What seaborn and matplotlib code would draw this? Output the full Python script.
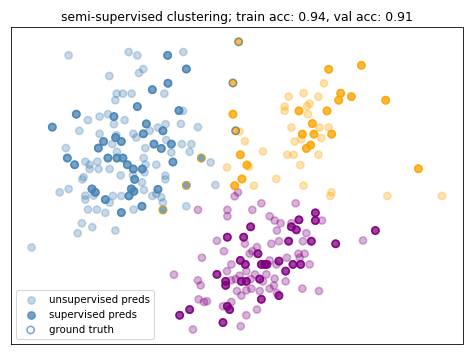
import numpy as np
import pandas as pd
import matplotlib.pyplot as plt
import seaborn as sns

# cluster colours: 0 = blue, 1 = orange, 2 = purple
colors = {0: 'steelblue', 1: 'orange', 2: 'purple'}

# unsupervised predictions (x, y, y grows downwards)
blue_unsup = [(69, 54.3), (129, 51), (137.7, 54.3), (183.7, 51), (143.7, 68), (139.3, 72), (109.7, 75),
              (164.7, 92.7), (117, 92.7), (123.3, 92.7), (132, 92.7), (115.7, 99.3),
              (88.3, 119.3), (100, 115.7), (108.3, 113.3), (114.3, 123.3), (125, 119.3), (79.7, 130),
              (100, 133), (116.7, 134.3), (133.7, 133), (136.7, 136.7), (150, 130), (158.3, 126.7),
              (166, 123.3), (181.3, 123), (183.3, 110), (198.3, 126.3),
              (145.7, 147.3), (166.7, 139.3), (182.3, 143.3), (191.7, 143.3), (190, 151), (171.7, 151.7),
              (66.3, 147.3), (112.7, 143.3), (117.3, 151),
              (85.7, 161), (90, 164), (90, 168.3), (97.7, 161), (99, 168.3), (110, 168.3), (144, 157.3),
              (146, 164), (156.7, 164), (145, 171.7), (121, 174.7), (133.3, 174.7), (142.3, 181.7),
              (165.7, 175), (165.7, 178.7), (82.7, 178.7), (84, 176.5),
              (60, 191.7), (69, 188.3), (85.7, 195), (85.7, 199), (94, 195), (113.3, 195.3), (121.7, 195.3),
              (144.3, 189.3), (152.7, 195.3), (156.7, 193.3), (161.7, 196.7), (163.3, 202), (110, 202),
              (88.3, 209), (97.3, 209), (105.7, 212.3), (134, 209), (186.7, 205.7),
              (82.3, 222.7), (78, 232.7), (92.7, 226.7), (115.7, 230), (32, 247), (211, 161.7), (215.7, 184.3)]

orange_unsup = [(240, 130.7), (245.3, 140.5), (249.3, 166), (227.3, 166.7), (263.3, 150.7), (324.3, 82.3),
                (289, 95.7), (304, 92.3), (318.7, 95.7), (285, 105.7), (285, 110), (307.3, 105.3),
                (310, 102.7), (308.3, 113.3), (291.7, 126.7), (320, 126.7), (329, 126.7), (321.7, 137.3),
                (295, 140.7), (301.7, 138.3), (287.7, 154), (294, 154), (318.7, 154), (300.7, 164.3),
                (254.3, 185), (276.7, 178.3), (304, 185), (331.7, 191.7), (330.7, 195.3), (387.7, 195.3),
                (442.3, 195.3)]

purple_unsup = [(198.3, 209.3), (227.7, 209.3), (227.7, 215.7), (252.7, 209.3), (261.7, 202.7), (296, 202.7),
                (322.3, 220), (270, 215.7), (275, 220), (281, 222.7), (291.7, 222.7), (277.3, 230),
                (306.7, 232.7), (303.3, 240.7), (217.3, 240.3), (245.3, 243.3), (271.7, 243.3), (279.3, 240.7),
                (224.3, 250.7), (257.3, 246.7), (252.7, 250.7), (250, 253.3), (270, 260), (202.3, 257.3),
                (231.7, 264), (287.3, 257.3), (298.7, 253.3), (305, 253.3), (300, 257.3), (276.7, 264),
                (310, 264), (227.3, 270.7), (246.7, 270.7), (240, 275.3), (255.3, 274), (266.7, 274),
                (275, 278.3), (263.3, 281), (286, 281), (231.7, 280), (236, 278.7), (251, 278.7),
                (274.3, 285.3), (270, 288.3), (251.7, 288.3), (246.7, 290), (237.3, 290.7), (241.7, 295.3),
                (260, 290.7), (277.3, 292.7), (302.7, 288.3), (319.3, 290.7), (198.3, 280), (201, 285),
                (199, 299), (204.3, 301.7), (207.3, 301), (231.7, 301.7), (223.3, 306), (257.3, 309.3),
                (246.7, 315), (238.3, 191.7), (235, 195.7), (174.3, 274.3), (241, 326), (193.3, 329.3),
                (363.3, 240)]

# supervised predictions (correct ones)
blue_sup = [(137.7, 105.7), (76.7, 113.3), (114.3, 115.7), (179.3, 109.7), (52.7, 126.3), (146.7, 123),
            (163.3, 130), (143.7, 133), (116, 136.7), (121.7, 140.7), (104, 140.7), (154.3, 143.3),
            (171.7, 143.3), (161.7, 147.7), (98.7, 147.3), (67.7, 157.3), (75, 164), (108.3, 157.3),
            (117.3, 157.3), (123.3, 157.3), (127.7, 164), (133.7, 168.3), (142.7, 168.3), (173.3, 161.3),
            (135, 178.7), (92.3, 188.3), (95.7, 191.7), (131.7, 188.3), (134.3, 190.7), (129.3, 195.3),
            (158.3, 188.7), (105.7, 199), (142.3, 205.7), (121.7, 212), (168, 54.3), (186.7, 68),
            (168.3, 82.3), (152.7, 88.7)]

orange_sup = [(233.3, 113.3), (240.7, 154), (247.3, 164.3), (329, 68.3), (361.7, 64.3), (341, 92.3),
              (339, 99.3), (351.7, 95.7), (299.3, 110), (327.3, 110), (312.7, 122.7), (302.7, 133.3),
              (314.3, 133.3), (332, 133.3), (311, 144.3), (306.7, 147.7), (386, 99.3), (418.7, 168),
              (235, 185), (242.3, 178.3)]

purple_sup = [(315.7, 212.3), (315.7, 220), (251, 226.3), (299.3, 219.3), (291.7, 226.3), (296.7, 229.3),
              (289, 240.7), (311.7, 240.7), (336, 243.3), (227.7, 236.7), (244, 236.7), (258.3, 253.3),
              (240.7, 260), (245.7, 264), (261.7, 264), (265, 264), (267.3, 264), (279.3, 260.7),
              (293.3, 264), (301, 264), (286, 270.7), (217.3, 274), (260, 278.7), (226, 281), (226, 285),
              (241.7, 281), (246.7, 281), (279.3, 295.3), (261.7, 299), (227.7, 306), (230, 309.3),
              (190, 309.3), (180, 315), (223.3, 322.3), (375.7, 230)]

# supervised points where prediction and ground truth disagree
blue_pred_orange_true = [(186.7, 184.7), (163.3, 209.3), (201.7, 157.3)]
orange_pred_blue_true = [(239, 40.7), (233.3, 82), (236, 130)]


def frame(points, pred, true=None):
    df = pd.DataFrame(points, columns=['x', 'y'])
    df['pred'] = pred
    df['true'] = pred if true is None else true
    return df


unsup = pd.concat([frame(blue_unsup, 0), frame(orange_unsup, 1), frame(purple_unsup, 2)], ignore_index=True)
sup = pd.concat([frame(blue_sup, 0), frame(orange_sup, 1), frame(purple_sup, 2),
                 frame(blue_pred_orange_true, 0, 1), frame(orange_pred_blue_true, 1, 0)], ignore_index=True)

size = 50

fig, ax = plt.subplots(figsize=(6.4, 4.8))

sns.scatterplot(data=unsup, x='x', y='y', hue='pred', palette=colors, alpha=0.3, s=size,
                edgecolor='face', linewidth=1.5, legend=False, ax=ax)
sns.scatterplot(data=sup, x='x', y='y', hue='pred', palette=colors, alpha=0.75, s=size,
                edgecolor='face', linewidth=1.5, legend=False, ax=ax)
ax.scatter(sup['x'], sup['y'], s=size, facecolors='none',
           edgecolors=[colors[t] for t in sup['true']], linewidths=1.5, alpha=0.7)

# legend proxies
h1 = ax.scatter([], [], s=size, c='steelblue', alpha=0.3, linewidths=1.5)
h2 = ax.scatter([], [], s=size, c='steelblue', alpha=0.75, linewidths=1.5)
h3 = ax.scatter([], [], s=size, facecolors='none', edgecolors='steelblue', alpha=0.7, linewidths=1.5)
ax.legend([h1, h2, h3], ['unsupervised preds', 'supervised preds', 'ground truth'], loc='lower left')

ax.invert_yaxis()
ax.set_xticks([])
ax.set_yticks([])
ax.set_xlabel('')
ax.set_ylabel('')
ax.set_title('semi-supervised clustering; train acc: 0.94, val acc: 0.91')
fig.tight_layout()
fig.savefig('out.png', dpi=74)
